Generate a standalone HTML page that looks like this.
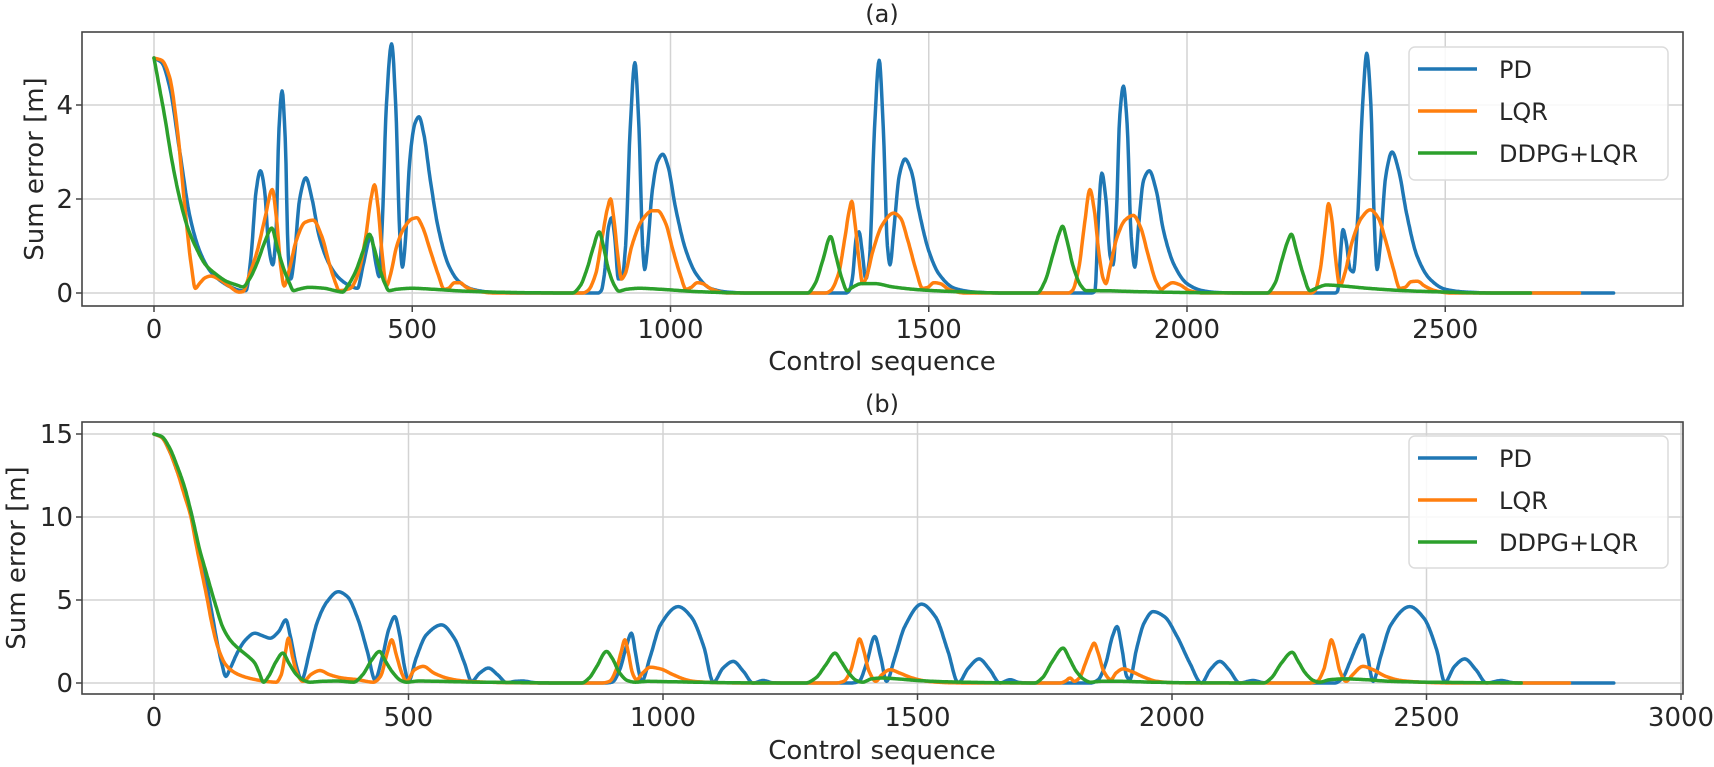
<!DOCTYPE html>
<html><head><meta charset="utf-8">
<style>
html,body{margin:0;padding:0;background:#fff;}
svg{display:block;}
text{font-family:"DejaVu Sans","Liberation Sans",sans-serif;fill:#262626;}
</style></head>
<body>
<svg id="s" width="1714" height="767" viewBox="0 0 1714 767" xmlns="http://www.w3.org/2000/svg">
<defs>
<clipPath id="ca"><rect x="82" y="32" width="1601" height="274"/></clipPath>
<clipPath id="cb"><rect x="82" y="422" width="1601" height="272"/></clipPath>
</defs>
<g id="grid"></g>
<g id="series"></g>
<!-- axes frames -->
<rect x="82" y="32" width="1601" height="274" fill="none" stroke="#444" stroke-width="1.6"/>
<rect x="82" y="422" width="1601" height="272" fill="none" stroke="#444" stroke-width="1.6"/>
<g id="ticks"></g>
<text x="882" y="22" font-size="24" text-anchor="middle">(a)</text>
<text x="882" y="412" font-size="24" text-anchor="middle">(b)</text>
<text x="882" y="370" font-size="26" text-anchor="middle">Control sequence</text>
<text x="882" y="759" font-size="26" text-anchor="middle">Control sequence</text>
<text transform="translate(43,169) rotate(-90)" font-size="26" text-anchor="middle">Sum error [m]</text>
<text transform="translate(25,558) rotate(-90)" font-size="26" text-anchor="middle">Sum error [m]</text>
<!-- legends -->
<g>
<rect x="1409" y="47" width="259" height="133" rx="6" fill="#fff" fill-opacity="0.85" stroke="#dcdcdc" stroke-width="1.5"/>
<line x1="1418" y1="69" x2="1477" y2="69" stroke="#1f77b4" stroke-width="3.5"/>
<line x1="1418" y1="111" x2="1477" y2="111" stroke="#ff7f0e" stroke-width="3.5"/>
<line x1="1418" y1="153" x2="1477" y2="153" stroke="#2ca02c" stroke-width="3.5"/>
<text x="1499" y="78" font-size="24">PD</text>
<text x="1499" y="120" font-size="24">LQR</text>
<text x="1499" y="162" font-size="24">DDPG+LQR</text>
</g>
<g>
<rect x="1409" y="436" width="259" height="132" rx="6" fill="#fff" fill-opacity="0.85" stroke="#dcdcdc" stroke-width="1.5"/>
<line x1="1418" y1="458" x2="1477" y2="458" stroke="#1f77b4" stroke-width="3.5"/>
<line x1="1418" y1="500" x2="1477" y2="500" stroke="#ff7f0e" stroke-width="3.5"/>
<line x1="1418" y1="542" x2="1477" y2="542" stroke="#2ca02c" stroke-width="3.5"/>
<text x="1499" y="467" font-size="24">PD</text>
<text x="1499" y="509" font-size="24">LQR</text>
<text x="1499" y="551" font-size="24">DDPG+LQR</text>
</g>
</svg>
<script>
(function(){
var NS="http://www.w3.org/2000/svg";
function el(tag,attrs,parent,txt){var e=document.createElementNS(NS,tag);for(var k in attrs)e.setAttribute(k,attrs[k]);if(txt!==undefined)e.textContent=txt;parent.appendChild(e);return e;}
var grid=document.getElementById('grid'),ticks=document.getElementById('ticks'),ser=document.getElementById('series');
var A={X:function(u){return 154+0.5165*u;},Y:function(v){return 293-47*v;},top:32,bot:306};
var B={X:function(u){return 154+0.509*u;},Y:function(v){return 683-16.6*v;},top:422,bot:694};
function axes(P,xt,yt){
 xt.forEach(function(u){var x=P.X(u);
  el('line',{x1:x,y1:P.top,x2:x,y2:P.bot,stroke:'#d3d3d3','stroke-width':1.5},grid);
  el('line',{x1:x,y1:P.bot,x2:x,y2:P.bot+6,stroke:'#444','stroke-width':1.5},ticks);
  el('text',{x:x,y:P.bot+32,'font-size':26,'text-anchor':'middle'},ticks,String(u));});
 yt.forEach(function(v){var y=P.Y(v);
  el('line',{x1:82,y1:y,x2:1683,y2:y,stroke:'#d3d3d3','stroke-width':1.5},grid);
  el('line',{x1:76,y1:y,x2:82,y2:y,stroke:'#444','stroke-width':1.5},ticks);
  el('text',{x:73,y:y+9,'font-size':26,'text-anchor':'end'},ticks,String(v));});
}
axes(A,[0,500,1000,1500,2000,2500],[0,2,4]);
axes(B,[0,500,1000,1500,2000,2500,3000],[0,5,10,15]);
function pchip(pts){
 var n=pts.length,h=[],d=[],m=[];
 for(var i=0;i<n-1;i++){h[i]=pts[i+1][0]-pts[i][0];d[i]=(pts[i+1][1]-pts[i][1])/h[i];}
 m[0]=d[0];m[n-1]=d[n-2];
 for(i=1;i<n-1;i++){ if(d[i-1]*d[i]<=0)m[i]=0; else {var w1=2*h[i]+h[i-1],w2=h[i]+2*h[i-1];m[i]=(w1+w2)/(w1/d[i-1]+w2/d[i]);} }
 var out=[];
 for(i=0;i<n-1;i++){var x0=pts[i][0],y0=pts[i][1],y1=pts[i+1][1],hh=h[i];
  var steps=Math.max(2,Math.ceil(hh/1.5));
  for(var k=0;k<steps;k++){var t=k/steps,t2=t*t,t3=t2*t;
   var y=(2*t3-3*t2+1)*y0+(t3-2*t2+t)*hh*m[i]+(-2*t3+3*t2)*y1+(t3-t2)*hh*m[i+1];
   out.push([x0+t*hh,Math.max(0,y)]);}}
 out.push(pts[n-1]);return out;
}
function draw(P,pts,col,clip){
 var s=pchip(pts),d='';
 s.forEach(function(p,i){d+=(i?'L':'M')+P.X(p[0]).toFixed(1)+' '+P.Y(p[1]).toFixed(1);});
 el('path',{d:d,fill:'none',stroke:col,'stroke-width':3.5,'stroke-linejoin':'round','stroke-linecap':'round','clip-path':'url(#'+clip+')'},ser);
}
var aPD=[[0,5],[15,4.9],[30,4.4],[50,3.0],[70,1.6],[90,0.85],[110,0.45],[130,0.25],[150,0.12],[170,0.05],[178,0.05],[188,0.8],[198,2.2],[206,2.6],[214,2.2],[222,1.0],[230,0.6],[236,1.2],[242,3.5],[248,4.3],[254,3.3],[260,0.8],[265,0.3],[272,0.8],[282,2.0],[294,2.45],[306,2.0],[320,1.2],[340,0.6],[360,0.3],[380,0.15],[394,0.1],[405,0.6],[420,1.2],[430,0.6],[436,0.35],[442,1.5],[450,4.0],[460,5.3],[468,4.0],[476,1.2],[481,0.55],[486,1.0],[495,2.8],[505,3.6],[513,3.75],[522,3.4],[535,2.4],[550,1.4],[570,0.6],[590,0.25],[616,0.08],[650,0.02],[700,0],[860,0],[866,0.05],[872,0.4],[880,1.4],[886,1.6],[892,1.2],[899,0.3],[906,0.3],[913,1.0],[922,3.5],[931,4.9],[939,3.5],[946,1.0],[950,0.5],[955,0.9],[965,2.2],[975,2.8],[985,2.95],[995,2.7],[1010,1.8],[1030,0.9],[1050,0.4],[1077,0.1],[1110,0.02],[1150,0],[1340,0],[1346,0.05],[1352,0.3],[1360,1.2],[1365,1.3],[1371,0.9],[1378,0.3],[1385,0.7],[1395,3.5],[1404,4.95],[1412,3.5],[1420,1.0],[1425,0.6],[1432,1.3],[1443,2.5],[1454,2.85],[1466,2.6],[1480,1.8],[1500,0.9],[1520,0.4],[1550,0.1],[1590,0.02],[1640,0],[1816,0],[1822,0.05],[1828,1.5],[1835,2.55],[1843,2.0],[1851,0.8],[1857,0.6],[1863,1.6],[1870,3.8],[1877,4.4],[1884,3.6],[1892,1.2],[1899,0.55],[1906,1.4],[1916,2.4],[1927,2.6],[1940,2.2],[1955,1.3],[1975,0.6],[2000,0.2],[2030,0.05],[2060,0.01],[2100,0],[2287,0],[2292,0.05],[2297,0.8],[2302,1.35],[2308,1.1],[2316,0.5],[2322,0.45],[2330,1.5],[2340,4.0],[2348,5.1],[2356,4.0],[2363,1.4],[2368,0.5],[2374,1.0],[2385,2.5],[2397,3.0],[2410,2.6],[2425,1.7],[2445,0.8],[2470,0.3],[2500,0.08],[2540,0.02],[2600,0],[2826,0]];
var aLQR=[[0,5],[15,4.95],[30,4.6],[45,3.5],[60,1.8],[72,0.6],[80,0.1],[88,0.2],[100,0.33],[110,0.36],[125,0.3],[145,0.15],[165,0.02],[172,0.03],[185,0.4],[200,0.9],[215,1.6],[229,2.2],[237,1.6],[245,0.6],[252,0.15],[262,0.5],[275,1.1],[292,1.5],[308,1.55],[325,1.2],[340,0.6],[352,0.2],[358,0.05],[380,0.1],[395,0.4],[410,1.2],[420,2.0],[427,2.3],[434,1.8],[442,0.8],[450,0.15],[458,0.4],[470,1.0],[485,1.4],[500,1.58],[509,1.6],[520,1.4],[535,0.9],[550,0.4],[562,0.08],[570,0.1],[582,0.22],[592,0.22],[605,0.12],[630,0.03],[660,0],[830,0],[840,0.05],[855,0.4],[868,1.2],[878,1.8],[884,2.0],[890,1.6],[898,0.8],[905,0.3],[912,0.4],[925,1.0],[945,1.55],[965,1.75],[975,1.75],[990,1.5],[1005,0.9],[1020,0.35],[1030,0.08],[1040,0.12],[1052,0.22],[1062,0.2],[1080,0.08],[1110,0],[1300,0],[1310,0.05],[1325,0.4],[1338,1.2],[1346,1.75],[1351,1.95],[1357,1.5],[1365,0.7],[1372,0.2],[1378,0.3],[1392,0.9],[1410,1.45],[1432,1.7],[1445,1.6],[1460,1.1],[1475,0.5],[1488,0.1],[1498,0.12],[1510,0.22],[1522,0.2],[1540,0.07],[1570,0],[1770,0],[1778,0.05],[1790,0.5],[1802,1.5],[1812,2.2],[1820,1.8],[1830,0.8],[1838,0.3],[1843,0.2],[1850,0.5],[1865,1.2],[1880,1.55],[1896,1.65],[1910,1.4],[1925,0.8],[1940,0.25],[1950,0.08],[1960,0.15],[1972,0.22],[1985,0.18],[2005,0.05],[2030,0],[2240,0],[2248,0.05],[2258,0.5],[2268,1.4],[2274,1.9],[2280,1.6],[2288,0.7],[2296,0.15],[2305,0.4],[2320,1.1],[2338,1.6],[2355,1.77],[2370,1.6],[2385,1.1],[2400,0.5],[2412,0.1],[2422,0.12],[2434,0.24],[2446,0.25],[2460,0.15],[2480,0.05],[2510,0],[2760,0]];
var aG=[[0,5],[10,4.4],[20,3.8],[35,2.8],[50,2.0],[65,1.4],[80,1.0],[100,0.6],[120,0.4],[140,0.25],[160,0.17],[172,0.13],[185,0.3],[200,0.65],[215,1.1],[228,1.38],[238,1.0],[250,0.55],[262,0.22],[270,0.05],[280,0.08],[300,0.12],[330,0.1],[350,0.05],[365,0.02],[375,0.15],[390,0.45],[405,0.9],[417,1.25],[425,1.0],[435,0.6],[447,0.2],[455,0.05],[470,0.08],[500,0.1],[540,0.08],[600,0.04],[700,0.01],[800,0],[810,0],[825,0.15],[838,0.5],[850,0.95],[862,1.3],[870,1.0],[880,0.5],[892,0.15],[900,0.04],[915,0.08],[940,0.1],[980,0.08],[1050,0.03],[1150,0],[1260,0],[1265,0],[1280,0.2],[1295,0.7],[1310,1.2],[1320,0.8],[1332,0.3],[1342,0.05],[1352,0.12],[1370,0.2],[1395,0.2],[1430,0.13],[1480,0.07],[1550,0.03],[1650,0],[1705,0],[1710,0],[1725,0.25],[1740,0.8],[1752,1.25],[1759,1.42],[1768,1.1],[1780,0.55],[1795,0.15],[1805,0.05],[1830,0.05],[1900,0.03],[2000,0.01],[2150,0],[2155,0],[2170,0.2],[2185,0.75],[2195,1.1],[2202,1.25],[2212,0.9],[2225,0.4],[2238,0.05],[2250,0.1],[2270,0.17],[2300,0.15],[2350,0.1],[2420,0.05],[2500,0.02],[2580,0],[2665,0]];
var bPD=[[0,15],[15,14.8],[30,14],[45,12.8],[60,11.5],[71,10.5],[85,8.5],[103,6],[115,4],[125,2.3],[133,1.2],[141,0.4],[150,0.9],[165,1.9],[180,2.6],[198,3.0],[213,2.85],[228,2.7],[245,3.1],[259,3.8],[268,2.8],[280,1.0],[290,0.2],[305,1.8],[320,3.6],[340,4.9],[362,5.5],[380,5.2],[400,3.9],[420,1.8],[434,0.2],[448,1.5],[462,3.3],[473,4.0],[482,3.0],[492,1.0],[500,0.1],[515,1.5],[535,2.9],[565,3.5],[590,2.7],[610,1.2],[624,0.1],[640,0.6],[657,0.9],[675,0.5],[693,0.02],[710,0.1],[725,0.12],[745,0.03],[760,0],[885,0],[900,0.05],[915,0.8],[928,2.2],[938,3.0],[946,1.8],[953,0.6],[958,0.1],[975,1.6],[995,3.5],[1030,4.6],[1055,4.0],[1080,2.2],[1099,0.05],[1118,0.9],[1138,1.3],[1158,0.7],[1177,0],[1197,0.15],[1215,0.02],[1240,0],[1370,0],[1385,0.1],[1400,1.2],[1416,2.8],[1428,1.5],[1439,0.1],[1455,1.5],[1475,3.4],[1508,4.75],[1535,4.0],[1560,1.9],[1580,0.02],[1600,0.9],[1621,1.45],[1642,0.8],[1662,0],[1682,0.2],[1700,0.03],[1730,0],[1840,0],[1855,0.2],[1870,1.2],[1883,2.8],[1892,3.4],[1902,2.0],[1911,0.4],[1917,0.2],[1930,2.0],[1945,3.6],[1963,4.3],[1985,4.0],[2010,2.8],[2035,1.2],[2058,0],[2075,0.8],[2094,1.3],[2112,0.8],[2133,0],[2159,0.15],[2180,0.02],[2200,0],[2320,0],[2335,0.3],[2350,1.3],[2365,2.4],[2375,2.9],[2385,1.5],[2395,0.1],[2410,1.6],[2430,3.5],[2467,4.6],[2495,3.9],[2520,2.0],[2536,0.05],[2555,1.0],[2575,1.45],[2597,0.8],[2618,0],[2647,0.15],[2670,0.02],[2700,0],[2868,0]];
var bLQR=[[0,15],[15,14.8],[30,14],[45,12.8],[60,11.3],[71,10.2],[85,8],[103,5.3],[115,3.4],[125,2.2],[141,1.1],[160,0.6],[180,0.35],[200,0.2],[220,0.1],[240,0.05],[250,0.5],[258,1.8],[264,2.7],[272,1.6],[282,0.5],[293,0.1],[310,0.55],[326,0.75],[345,0.5],[370,0.3],[400,0.2],[431,0.05],[445,0.4],[458,1.8],[467,2.6],[476,1.7],[488,0.5],[496,0.1],[512,0.8],[529,1.0],[550,0.6],[575,0.3],[600,0.15],[627,0.08],[680,0.03],[760,0],[880,0],[895,0.1],[908,0.8],[918,1.9],[925,2.6],[932,1.8],[940,0.6],[948,0.2],[960,0.6],[975,0.95],[995,0.85],[1020,0.5],[1045,0.2],[1060,0.1],[1100,0.03],[1150,0],[1340,0],[1355,0.1],[1368,0.7],[1378,1.8],[1386,2.65],[1394,2.0],[1405,0.7],[1418,0.1],[1430,0.5],[1446,0.8],[1465,0.6],[1490,0.3],[1520,0.1],[1560,0.02],[1600,0],[1780,0],[1790,0.1],[1800,0.3],[1808,0.1],[1818,0.3],[1830,1.2],[1840,2.0],[1847,2.4],[1855,1.8],[1866,0.7],[1880,0.2],[1890,0.6],[1904,0.85],[1920,0.7],[1945,0.35],[1970,0.1],[2000,0.02],[2040,0],[2270,0],[2285,0.1],[2298,0.8],[2306,1.8],[2313,2.6],[2320,2.0],[2330,0.7],[2342,0.1],[2355,0.5],[2375,1.0],[2395,0.8],[2420,0.4],[2450,0.15],[2490,0.05],[2550,0],[2781,0]];
var bG=[[0,15],[15,14.85],[30,14.2],[45,13.1],[60,11.8],[75,10.0],[90,8.0],[103,6.6],[120,4.8],[136,3.3],[152,2.5],[169,2.0],[185,1.6],[198,1.2],[207,0.6],[215,0.05],[225,0.4],[240,1.3],[253,1.8],[265,1.2],[280,0.5],[295,0.15],[306,0.05],[330,0.1],[360,0.12],[392,0.05],[410,0.5],[428,1.4],[443,1.9],[455,1.3],[470,0.6],[485,0.15],[496,0.05],[520,0.12],[560,0.1],[620,0.06],[700,0.03],[800,0],[840,0],[855,0.3],[870,1.0],[889,1.9],[900,1.5],[915,0.6],[930,0.15],[945,0.05],[970,0.1],[1010,0.08],[1100,0.03],[1200,0],[1280,0],[1300,0.3],[1320,1.1],[1338,1.8],[1350,1.3],[1365,0.6],[1380,0.15],[1392,0.05],[1410,0.25],[1430,0.3],[1460,0.25],[1500,0.15],[1560,0.07],[1650,0.02],[1730,0],[1745,0.3],[1765,1.3],[1786,2.1],[1798,1.5],[1812,0.7],[1828,0.2],[1840,0.05],[1860,0.1],[1900,0.1],[1960,0.05],[2050,0.01],[2180,0],[2195,0.3],[2215,1.2],[2236,1.85],[2248,1.3],[2262,0.6],[2278,0.15],[2290,0.05],[2310,0.2],[2340,0.25],[2380,0.2],[2430,0.1],[2500,0.05],[2600,0.02],[2686,0]];
draw(A,aPD,'#1f77b4','ca');draw(A,aLQR,'#ff7f0e','ca');draw(A,aG,'#2ca02c','ca');
draw(B,bPD,'#1f77b4','cb');draw(B,bLQR,'#ff7f0e','cb');draw(B,bG,'#2ca02c','cb');
})();
</script>
</body></html>
